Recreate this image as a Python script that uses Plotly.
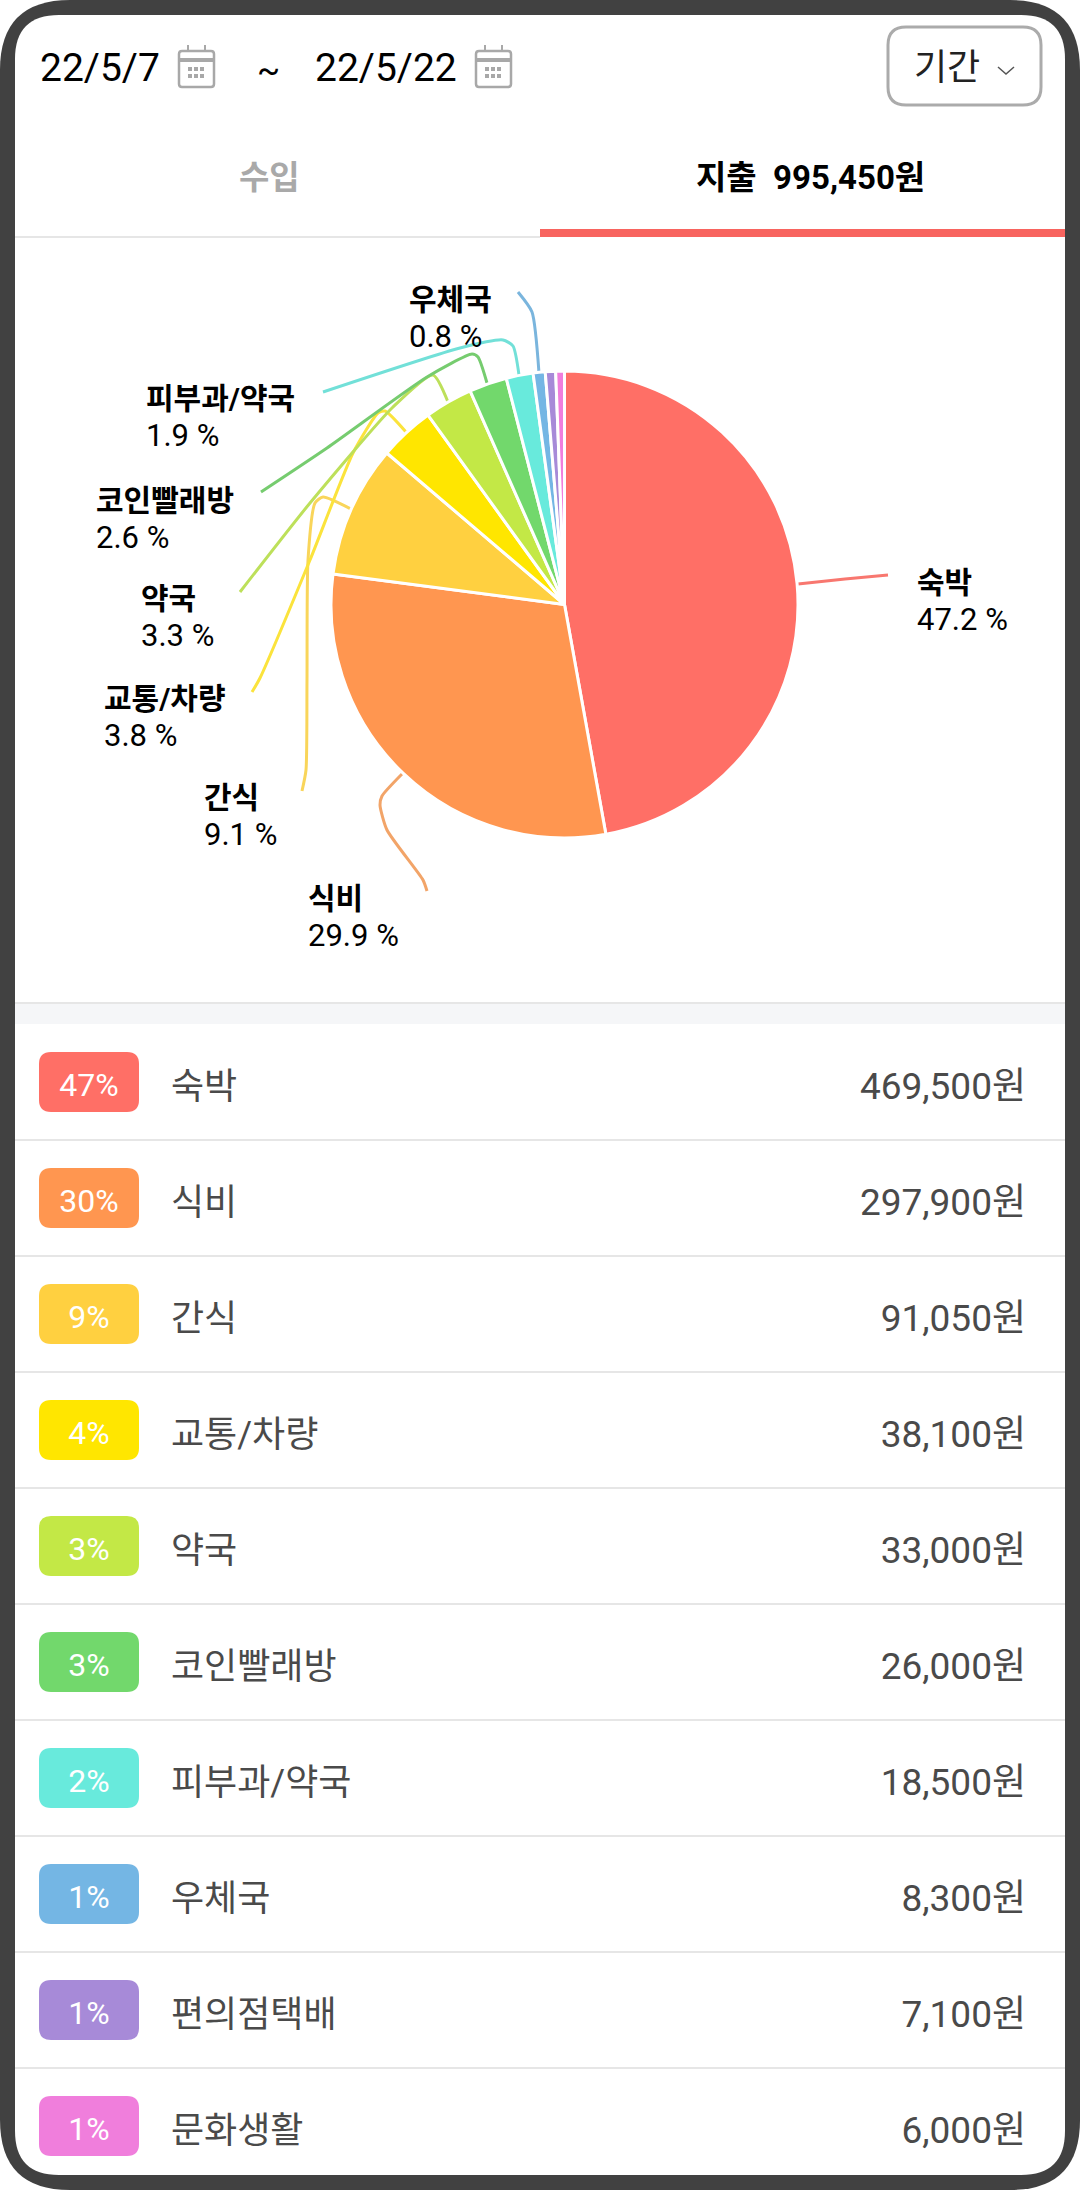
"""Expense breakdown screen: pie with leader lines and a category list."""

import plotly.graph_objects as go

categories = ["숙박", "식비", "간식", "교통/차량", "약국", "코인빨래방", "피부과/약국", "우체국", "편의점택배", "문화생활"]
amounts = [469500, 297900, 91050, 38100, 33000, 26000, 18500, 8300, 7100, 6000]
colors = ["#FF6F66", "#FF9650", "#FFD040", "#FFE600", "#C3E846", "#72D86C", "#68EADC", "#74B6E4", "#A78AD8", "#F07EDC"]
line_colors = ["#F8776F", "#F2A468", "#F9D55A", "#FBE33C", "#BDE05A", "#76CC6F", "#72E0D8", "#7AB5DD"]

date_from = "22/5/7"
date_to = "22/5/22"
tab_income = "수입"
period_label = "기간"

W, H = 1080, 2190
SANS = "Roboto, 'Noto Sans CJK KR', sans-serif"
total = sum(amounts)
shares = [a / total * 100 for a in amounts]

# screen layout, in pixels
PIE_BOX = (331, 371, 798, 838)
ROW_Y0, ROW_STEP = 1082, 116
row_y = [ROW_Y0 + ROW_STEP * i for i in range(len(categories))]
text_y = [y + 8 for y in row_y]

label_pos = [(915, 582), (306, 898), (202, 797), (102, 698), (139, 598), (94, 500), (144, 398), (407, 299)]
value_gap = 37

leaders = [
    [(798, 584), (845, 579), (888, 575)],
    [(403, 773), (382, 796), (380, 805), (387, 830), (423, 880), (427, 891)],
    [(351, 509), (323, 497), (315, 503), (308, 560), (307, 680), (306, 770), (302, 791)],
    [(406, 432), (385, 411), (378, 413), (353, 453), (310, 560), (260, 678), (252, 692)],
    [(448, 402), (433, 375), (393, 407), (310, 503), (240, 592)],
    [(487, 383), (478, 357), (472, 354), (427, 377), (327, 448), (261, 492)],
    [(519, 375), (513, 346), (503, 340), (460, 348), (323, 392)],
    [(539, 373), (532, 312), (518, 292)],
]


def rounded(x0, y0, x1, y1, r):
    return (
        f"M{x0+r},{y0} L{x1-r},{y0} Q{x1},{y0} {x1},{y0+r} L{x1},{y1-r} Q{x1},{y1} {x1-r},{y1} "
        f"L{x0+r},{y1} Q{x0},{y1} {x0},{y1-r} L{x0},{y0+r} Q{x0},{y0} {x0+r},{y0} Z"
    )


def box(x0, y0, x1, y1, r, fill, line=None, width=0, layer="below"):
    return dict(
        type="path", path=rounded(x0, y0, x1, y1, r), fillcolor=fill, layer=layer,
        line=dict(color=line or fill, width=width),
    )


def rule(x0, x1, y, color="#E6E6E6", width=2):
    return dict(type="line", x0=x0, x1=x1, y0=y, y1=y, layer="below", line=dict(color=color, width=width))


def calendar(x):
    gray = "#A8A8A8"
    items = [
        box(x, 51, x + 35, 87, 3, "#FFFFFF", gray, 2.5),
        dict(type="rect", x0=x, x1=x + 35, y0=58, y1=62, fillcolor=gray, line_width=0, layer="below"),
        dict(type="line", x0=x + 9, x1=x + 9, y0=45, y1=52, layer="below", line=dict(color=gray, width=2)),
        dict(type="line", x0=x + 26, x1=x + 26, y0=45, y1=52, layer="below", line=dict(color=gray, width=2)),
    ]
    for cx in (9, 15, 21):
        for cy in (67, 74):
            items.append(dict(type="rect", x0=x + cx, x1=x + cx + 4, y0=cy, y1=cy + 4,
                              fillcolor=gray, line_width=0, layer="below"))
    return items


shapes = [
    box(0, 0, W, H, 70, "#414141"),
    box(15, 15, 1065, 2175, 44, "#FFFFFF"),
    box(888, 27, 1041, 105, 18, "#FFFFFF", "#ABABAB", 3),
    dict(type="path", path="M998,67 L1006,74 L1014,67", line=dict(color="#555555", width=1.5), layer="below"),
    rule(15, 540, 237),
    dict(type="rect", x0=540, x1=1065, y0=229, y1=237, fillcolor="#F8645F", line_width=0, layer="below"),
    dict(type="rect", x0=15, x1=1065, y0=1004, y1=1024, fillcolor="#F5F6F8", line_width=0, layer="below"),
    rule(15, 1065, 1003),
]
shapes += calendar(179) + calendar(476)
for y in row_y[:-1]:
    shapes.append(rule(15, 1065, y + 58))
for y, c in zip(row_y, colors):
    shapes.append(box(39, y - 30, 139, y + 30, 12, c))

annotations = []


def text(x, y, s, size, color="#000000", anchor="left"):
    annotations.append(dict(
        x=x, y=y, text=s, showarrow=False, xanchor=anchor, yanchor="middle",
        font=dict(family=SANS, size=size, color=color),
    ))


text(38, 68, date_from, 39)
text(268, 70, "~", 34, anchor="center")
text(313, 68, date_to, 39)
text(947, 68, period_label, 36, "#222222", "center")
text(269, 177, f"<b>{tab_income}</b>", 33, "#A9A9A9", "center")
text(810, 177, f"<b>지출  {total:,}원</b>", 33, "#000000", "center")

for (x, y), name, share in zip(label_pos, categories, shares):
    text(x, y, f"<b>{name}</b>", 30)
    text(x, y + value_gap, f"{share:.1f} %", 31)

fig = go.Figure()
fig.add_trace(
    go.Pie(
        labels=categories,
        values=amounts,
        sort=False,
        direction="clockwise",
        rotation=0,
        textinfo="none",
        hoverinfo="label+percent",
        marker=dict(colors=colors, line=dict(color="#FFFFFF", width=3)),
        domain=dict(
            x=[PIE_BOX[0] / W, PIE_BOX[2] / W],
            y=[1 - PIE_BOX[3] / H, 1 - PIE_BOX[1] / H],
        ),
    )
)
for pts, c in zip(leaders, line_colors):
    fig.add_trace(
        go.Scatter(
            x=[p[0] for p in pts],
            y=[p[1] for p in pts],
            mode="lines",
            line=dict(color=c, width=3, shape="spline", smoothing=0.6),
            hoverinfo="skip",
        )
    )
fig.add_trace(
    go.Scatter(
        x=[89] * len(row_y),
        y=[y + 6 for y in row_y],
        mode="text",
        text=[f"{s:.0f}%" for s in shares],
        textposition="middle center",
        textfont=dict(family=SANS, size=32, color="#FFFFFF"),
        hoverinfo="skip",
    )
)
fig.add_trace(
    go.Scatter(
        x=[171] * len(row_y),
        y=text_y,
        mode="text",
        text=categories,
        textposition="middle right",
        textfont=dict(family=SANS, size=36, color="#4A4A4A"),
        hoverinfo="skip",
    )
)
fig.add_trace(
    go.Scatter(
        x=[1026] * len(row_y),
        y=text_y,
        mode="text",
        text=[f"{a:,}원" for a in amounts],
        textposition="middle left",
        textfont=dict(family=SANS, size=37, color="#4A4A4A"),
        hoverinfo="skip",
    )
)
fig.update_layout(
    width=W,
    height=H,
    margin=dict(l=0, r=0, t=0, b=0),
    paper_bgcolor="#FFFFFF",
    plot_bgcolor="rgba(0,0,0,0)",
    showlegend=False,
    shapes=shapes,
    annotations=annotations,
    xaxis=dict(range=[0, W], visible=False, fixedrange=True),
    yaxis=dict(range=[H, 0], visible=False, fixedrange=True),
)
fig.write_html("out.html", config={"displayModeBar": False}, post_script="document.body.style.margin='0';")
